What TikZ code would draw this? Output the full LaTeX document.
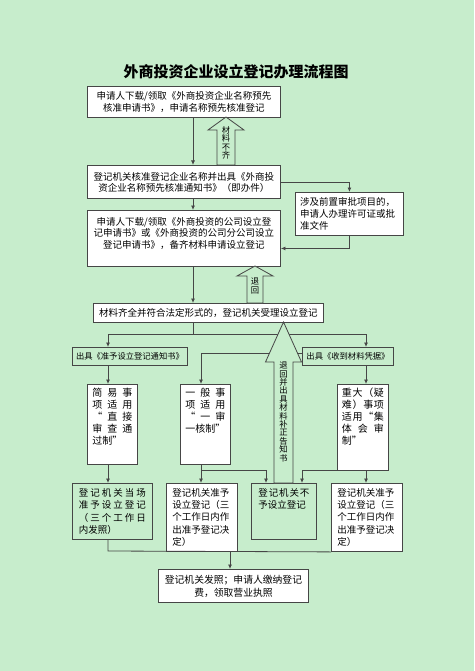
\documentclass[tikz,border=0pt]{standalone}
\usepackage{fontspec}
\setmainfont{Noto Sans CJK SC}
\usetikzlibrary{arrows.meta}
\definecolor{bg}{RGB}{199,237,204}
\definecolor{edge}{RGB}{70,70,70}
\newcommand\sprd[1]{\makebox[\linewidth][s]{#1}}
\begin{document}
\begin{tikzpicture}[x=1pt,y=-1pt,
 box/.style={draw=edge, line width=0.9pt, fill=white, inner sep=0pt, anchor=north west},
 gbox/.style={box, fill=bg},
 txt/.style={inner sep=0pt, font=\fontsize{9.5pt}{12pt}\selectfont, align=center},
 ln/.style={draw=edge, line width=0.8pt},
 arr/.style={ln, -{Latex[length=4.5pt,width=4pt]}},
 hollow/.style={draw=edge, line width=0.8pt, fill=bg, line join=miter},
 vtxt/.style={inner sep=0pt, font=\fontsize{8.3pt}{8.4pt}\selectfont, align=center}]
\fill[bg] (0,0) rectangle (474,671);
\useasboundingbox (0,0) rectangle (474,671);

\node[font=\fontsize{15pt}{15pt}\selectfont\bfseries] (title) at (236,72) {外商投资企业设立登记办理流程图};

% boxes
\node[box, minimum width=193pt, minimum height=31pt] (b1) at (87,86) {};
\node[box, minimum width=193pt, minimum height=33pt] (b2) at (87,165) {};
\node[box, minimum width=193pt, minimum height=56pt] (b3) at (87,210) {};
\node[box, minimum width=108pt, minimum height=43pt] (side) at (295,192) {};
\node[box, minimum width=230pt, minimum height=19pt] (b4) at (93,303) {};
\node[gbox, minimum width=115pt, minimum height=18pt] (b5a) at (72,347) {};
\node[gbox, minimum width=91pt, minimum height=18pt] (b5b) at (302,347) {};
\node[box, minimum width=50pt, minimum height=80pt] (b6a) at (87,384) {};
\node[box, minimum width=50pt, minimum height=80pt] (b6b) at (180,384) {};
\node[box, minimum width=51pt, minimum height=86pt] (b6d) at (337,384) {};
\node[gbox, minimum width=80pt, minimum height=56pt] (b7a) at (72,483) {};
\node[box, minimum width=71pt, minimum height=68pt] (b7b) at (166,483) {};
\node[gbox, minimum width=65pt, minimum height=56pt] (b7c) at (251,483) {};
\node[box, minimum width=71pt, minimum height=68pt] (b7d) at (331,483) {};
\node[box, minimum width=150pt, minimum height=33pt] (bf) at (158,569) {};

% texts
\node[txt] (t1) at (b1.center) {申请人下载/领取《外商投资企业名称预先\\核准申请书》，申请名称预先核准登记};
\node[txt, font=\fontsize{9.5pt}{11pt}\selectfont] (t2) at (b2.center) {登记机关核准登记企业名称并出具《外商投\\资企业名称预先核准通知书》（即办件）};
\node[txt, font=\fontsize{9.5pt}{11.5pt}\selectfont, anchor=north, yshift=-7pt] (t3) at (b3.north) {申请人下载/领取《外商投资的公司设立登\\记申请书》或《外商投资的公司分公司设立\\登记申请书》，备齐材料申请设立登记};
\node[txt, align=left, anchor=west, xshift=5pt] (ts) at (side.west) {涉及前置审批项目的，\\申请人办理许可证或批\\准文件};
\node[txt] (t4) at (b4.center) {材料齐全并符合法定形式的，登记机关受理设立登记};
\node[txt, font=\fontsize{8.3pt}{10pt}\selectfont] (t5a) at (b5a.center) {出具《准予设立登记通知书》};
\node[txt, font=\fontsize{8.3pt}{10pt}\selectfont] (t5b) at (b5b.center) {出具《收到材料凭据》};
\node[txt, font=\fontsize{10pt}{12pt}\selectfont, text width=40pt, align=left, anchor=north, yshift=-4pt] (t6a) at (b6a.north) {\sprd{简\hfill 易\hfill 事}\\\sprd{项\hfill 适\hfill 用}\\\sprd{“\hfill 直\hfill 接}\\\sprd{审\hfill 查\hfill 通}\\过制”};
\node[txt, font=\fontsize{10pt}{12pt}\selectfont, text width=40pt, align=left, anchor=north, yshift=-4pt] (t6b) at (b6b.north) {\sprd{一\hfill 般\hfill 事}\\\sprd{项\hfill 适\hfill 用}\\\sprd{“\hfill 一\hfill 审}\\一核制”};
\node[txt, font=\fontsize{10pt}{12pt}\selectfont, text width=42pt, align=left, anchor=north, yshift=-4pt] (t6d) at (b6d.north) {\sprd{重\hfill 大\hfill （\hfill 疑}\\\sprd{难\hfill ）\hfill 事\hfill 项}\\\sprd{适\hfill 用\hfill “\hfill 集}\\\sprd{体\hfill 会\hfill 审}\\制”};
\node[txt, font=\fontsize{9.5pt}{12.5pt}\selectfont, text width=67pt, align=left] (t7a) at (b7a.center) {\sprd{登\hfill 记\hfill 机\hfill 关\hfill 当\hfill 场}\\\sprd{准\hfill 予\hfill 设\hfill 立\hfill 登\hfill 记}\\\sprd{（\hfill 三\hfill 个\hfill 工\hfill 作\hfill 日}\\内发照）};
\node[txt, font=\fontsize{9.5pt}{12.3pt}\selectfont, text width=59pt, align=left] (t7b) at (b7b.center) {登记机关准予\\设立登记（三\\个工作日内作\\出准予登记决\\定）};
\node[txt, font=\fontsize{9.5pt}{12.5pt}\selectfont, text width=51pt, align=left, anchor=north, yshift=-5pt] (t7c) at (b7c.north) {\sprd{登\hfill 记\hfill 机\hfill 关\hfill 不}\\予设立登记};
\node[txt, font=\fontsize{9.5pt}{12.3pt}\selectfont, text width=59pt, align=left] (t7d) at (b7d.center) {登记机关准予\\设立登记（三\\个工作日内作\\出准予登记决\\定）};
\node[txt, font=\fontsize{9.8pt}{13pt}\selectfont] (tf) at (bf.center) {登记机关发照；申请人缴纳登记\\费，领取营业执照};

% columns
\coordinate (cM) at (193,0);
\coordinate (cL) at (108,0);
\coordinate (cB) at (201,0);
\coordinate (cR) at (366,0);
\coordinate (cF) at (230,0);
\coordinate (cC1) at (266,0);
\coordinate (cC2) at (302,0);

% connectors
\draw[arr] (b1.south -| cM) -- (b2.north -| cM);
\draw[arr] (b2.south -| cM) -- (b3.north -| cM);
\draw[arr] (b2.east) -| (side.north);
\draw[arr] (side.south) |- ([yshift=-10pt]b3.east);
\draw[arr] (b3.south -| cM) -- (b4.north -| cM);
\coordinate (sp) at (193,334);
\draw[ln] (b4.south -| cM) -- (sp);
\draw[arr] (sp) -| (b5a.north -| cL);
\draw[arr] (sp) -| (b5b.north -| cR);
\draw[arr] (b5a.south -| cL) -- (b6a.north -| cL);
\draw[arr] ([yshift=-6pt]b5b.north west) -| (b6b.north -| cB);
\draw[arr] (b5b.south -| cR) -- (b6d.north -| cR);
\draw[arr] (b6a.south -| cL) -- (b7a.north -| cL);
\coordinate (j6b) at (201,470.7);
\draw[arr] (b6b.south -| cB) -- (b7b.north -| cB);
\draw[arr] (j6b) -| (b7c.north -| cC1);
\draw[arr] (b6d.south -| cR) -- (b7d.north -| cR);
\draw[arr] ([yshift=1pt]b6d.south west) -| (b7c.north -| cC2);
\coordinate (j7) at (108,551);
\draw[ln] (b7a.south -| cL) -- (j7) -- (b7d.south west);
\draw[arr] (j7 -| cF) -- (bf.north -| cF);

% hollow arrows
\draw[hollow] (226,117) -- (244,130) -- (235,130) -- (235,165) -- (217,165) -- (217,130) -- (208,130) -- cycle;
\node[vtxt] (h1) at (226,143) {材\\料\\不\\齐};
\draw[hollow] (255,266) -- (273,276) -- (263,276) -- (263,303) -- (247,303) -- (247,276) -- (237,276) -- cycle;
\node[vtxt] (h2) at (255,286) {退\\回};
\draw[hollow] (283.5,322) -- (301.5,362) -- (293,362) -- (293,483) -- (274,483) -- (274,362) -- (265.5,362) -- cycle;
\node[vtxt] (h3) at (283.5,412) {退\\回\\并\\出\\具\\材\\料\\补\\正\\告\\知\\书};
\end{tikzpicture}
\end{document}
